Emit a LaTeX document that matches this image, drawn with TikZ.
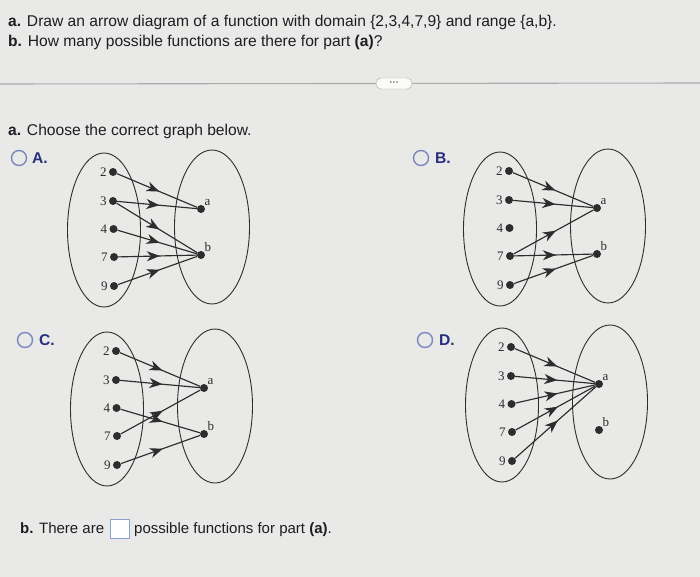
\documentclass[tikz,border=0pt]{standalone}
\usepackage{fontspec}
\setmainfont{Liberation Sans}
\newfontfamily\setnumfont{Liberation Serif}
\usetikzlibrary{arrows.meta,decorations.markings,shapes.geometric}
\definecolor{bg}{RGB}{233,233,232}
\definecolor{ink}{RGB}{30,30,34}
\definecolor{radio}{RGB}{125,135,190}
\definecolor{optlabel}{RGB}{38,48,125}
\definecolor{rulecol}{RGB}{170,170,170}
\definecolor{diag}{RGB}{45,45,45}
\definecolor{boxcol}{RGB}{140,160,205}
\tikzset{
  midarrow/.style={draw=diag, line width=1.15pt, postaction={decorate},
    decoration={markings, mark=at position 0.53 with {\arrow{Stealth[length=13pt,width=10pt,inset=4pt]}}}},
  setell/.style={ellipse, draw=diag, line width=0.9pt, inner sep=0pt},
  dot/.style={circle, fill=diag, inner sep=0pt, minimum size=8pt},
  elabel/.style={font=\setnumfont\fontsize{13}{13}\selectfont, text=diag, inner sep=2pt},
  txt/.style={font=\fontsize{15.6}{18}\selectfont, text=ink, anchor=base west, inner sep=0pt},
  txtb/.style={txt, font=\fontsize{15}{18}\selectfont},
  radiobtn/.style={circle, draw=radio, line width=1.4pt, minimum size=15pt, inner sep=0pt},
  optlbl/.style={font=\bfseries\fontsize{15.6}{18}\selectfont, text=optlabel, anchor=west, inner sep=0pt},
}
% #1 prefix, #2 x, #3 y (center of left set)
\newcommand\fdiagram[3]{%
  \begin{scope}[shift={(#2,#3)}]
    \node[setell, minimum width=73pt, minimum height=154pt] (#1L) at (0,0) {};
    \node[setell, minimum width=75pt, minimum height=154pt] (#1R) at (108,-3) {};
    \node[dot] (#1d2) at (9,-58) {};
    \node[dot] (#1d3) at (9,-29) {};
    \node[dot] (#1d4) at (9.5,-1) {};
    \node[dot] (#1d7) at (10,27) {};
    \node[dot] (#1d9) at (10,56) {};
    \node[elabel, anchor=east] (#1t2) at (#1d2.west) {2};
    \node[elabel, anchor=east] (#1t3) at (#1d3.west) {3};
    \node[elabel, anchor=east] (#1t4) at (#1d4.west) {4};
    \node[elabel, anchor=east] (#1t7) at (#1d7.west) {7};
    \node[elabel, anchor=east] (#1t9) at (#1d9.west) {9};
    \node[dot] (#1da) at (97,-21) {};
    \node[dot] (#1db) at (97,25) {};
    \node[elabel, anchor=south west, inner sep=0.5pt] (#1ta) at (#1da.north east) {a};
    \node[elabel, anchor=south west, inner sep=0.5pt] (#1tb) at (#1db.north east) {b};
  \end{scope}}
\begin{document}
\begin{tikzpicture}[x=1pt,y=-1pt]
\fill[bg] (0,0) rectangle (700,577);
\useasboundingbox (0,0) rectangle (700,577);

% question
\node[txt] (q1) at (8,27) {\textbf{a.} Draw an arrow diagram of a function with domain \{2,3,4,7,9\} and range \{a,b\}.};
\node[txt] (q2) at (8,47) {\textbf{b.} How many possible functions are there for part \textbf{(a)}?};

% separator
\coordinate (sepL) at (0,84);
\coordinate (sepR) at (700,83);
\draw[rulecol, line width=1.1pt] (sepL) -- (sepR);
\node[draw=rulecol, fill=white!80!bg, rounded corners=5pt, minimum width=36pt, minimum height=11pt, inner sep=0pt,
  font=\fontsize{6}{6}\selectfont, text=black!65] (pill) at (394,83.5) {\textbullet\,\textbullet\,\textbullet};

\node[txt] (pa) at (8,136) {\textbf{a.} Choose the correct graph below.};

% options
\node[radiobtn] (rA) at (19,158) {};
\node[optlbl] (lA) at (32,158) {A.};
\node[radiobtn] (rB) at (421,158) {};
\node[optlbl] (lB) at (435,158) {B.};
\node[radiobtn] (rC) at (25,340) {};
\node[optlbl] (lC) at (39,340) {C.};
\node[radiobtn] (rD) at (425,340) {};
\node[optlbl] (lD) at (439,340) {D.};

% diagram A
\fdiagram{A}{104}{230}
\draw[midarrow] (Ad2) -- (Ada);
\draw[midarrow] (Ad3) -- (Ada);
\draw[midarrow] (Ad3) -- (Adb);
\draw[midarrow] (Ad4) -- (Adb);
\draw[midarrow] (Ad7) -- (Adb);
\draw[midarrow] (Ad9) -- (Adb);

% diagram B
\fdiagram{B}{500}{229}
\draw[midarrow] (Bd2) -- (Bda);
\draw[midarrow] (Bd3) -- (Bda);
\draw[midarrow] (Bd7) -- (Bda);
\draw[midarrow] (Bd7) -- (Bdb);
\draw[midarrow] (Bd9) -- (Bdb);

% diagram C
\fdiagram{C}{107}{409}
\draw[midarrow] (Cd2) -- (Cda);
\draw[midarrow] (Cd3) -- (Cda);
\draw[midarrow] (Cd4) -- (Cdb);
\draw[midarrow] (Cd7) -- (Cda);
\draw[midarrow] (Cd9) -- (Cdb);

% diagram D
\fdiagram{D}{502}{405}
\draw[midarrow] (Dd2) -- (Dda);
\draw[midarrow] (Dd3) -- (Dda);
\draw[midarrow] (Dd4) -- (Dda);
\draw[midarrow] (Dd7) -- (Dda);
\draw[midarrow] (Dd9) -- (Dda);

% part b
\node[txtb] (pb1) at (20,533) {\textbf{b.} There are};
\node[draw=boxcol, fill=white, line width=0.8pt, minimum width=19pt, minimum height=19pt, inner sep=0pt] (ansbox) at (119.5,528.5) {};
\node[txtb] (pb2) at (134,533) {possible functions for part \textbf{(a)}.};
\end{tikzpicture}
\end{document}
